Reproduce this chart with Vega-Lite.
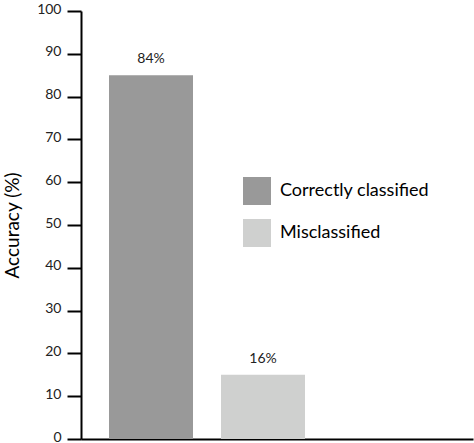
{
  "$schema": "https://vega.github.io/schema/vega-lite/v6.json",
  "width": 392,
  "height": 428,
  "autosize": "none",
  "padding": {"left": 81, "top": 11, "right": 1, "bottom": 4},
  "background": "white",
  "config": {
    "view": {"stroke": null},
    "font": "Lato"
  },
  "data": {
    "values": [
      {"category": "Correctly classified", "accuracy": 85, "label": "84%"},
      {"category": "Misclassified", "accuracy": 15, "label": "16%"}
    ]
  },
  "encoding": {
    "x": {
      "field": "category",
      "type": "nominal",
      "sort": null,
      "scale": {"paddingInner": 0.25, "paddingOuter": 0.875, "align": 0.142857},
      "axis": {
        "title": null,
        "labels": false,
        "ticks": false,
        "domainColor": "black",
        "domainWidth": 2
      }
    },
    "y": {
      "field": "accuracy",
      "type": "quantitative",
      "scale": {"domain": [0, 100], "nice": false},
      "axis": {
        "title": "Accuracy (%)",
        "titleFont": "Lato",
        "titleFontSize": 19,
        "titleFontWeight": "normal",
        "titleColor": "black",
        "titlePadding": 14,
        "values": [0, 10, 20, 30, 40, 50, 60, 70, 80, 90, 100],
        "grid": false,
        "domainColor": "black",
        "domainWidth": 2,
        "tickColor": "black",
        "tickWidth": 2,
        "tickSize": 14,
        "labelFont": "Lato",
        "labelFontSize": 14,
        "labelColor": "#222222",
        "labelPadding": 6,
        "labelOffset": -2
      }
    }
  },
  "layer": [
    {
      "mark": {"type": "bar"},
      "encoding": {
        "color": {
          "field": "category",
          "type": "nominal",
          "sort": null,
          "scale": {"range": ["#999999", "#cfd0cf"]},
          "legend": {
            "title": null,
            "orient": "none",
            "legendX": 162,
            "legendY": 166,
            "padding": 0,
            "symbolType": "square",
            "symbolSize": 784,
            "symbolStrokeWidth": 0,
            "symbolOpacity": 1,
            "rowPadding": 14,
            "labelOffset": 9,
            "labelFont": "Lato",
            "labelFontSize": 18,
            "labelColor": "black",
            "labelLimit": 300
          }
        }
      }
    },
    {
      "mark": {"type": "text", "dy": -16, "fontSize": 14, "color": "#222222", "font": "Lato"},
      "encoding": {
        "text": {"field": "label"}
      }
    }
  ]
}
